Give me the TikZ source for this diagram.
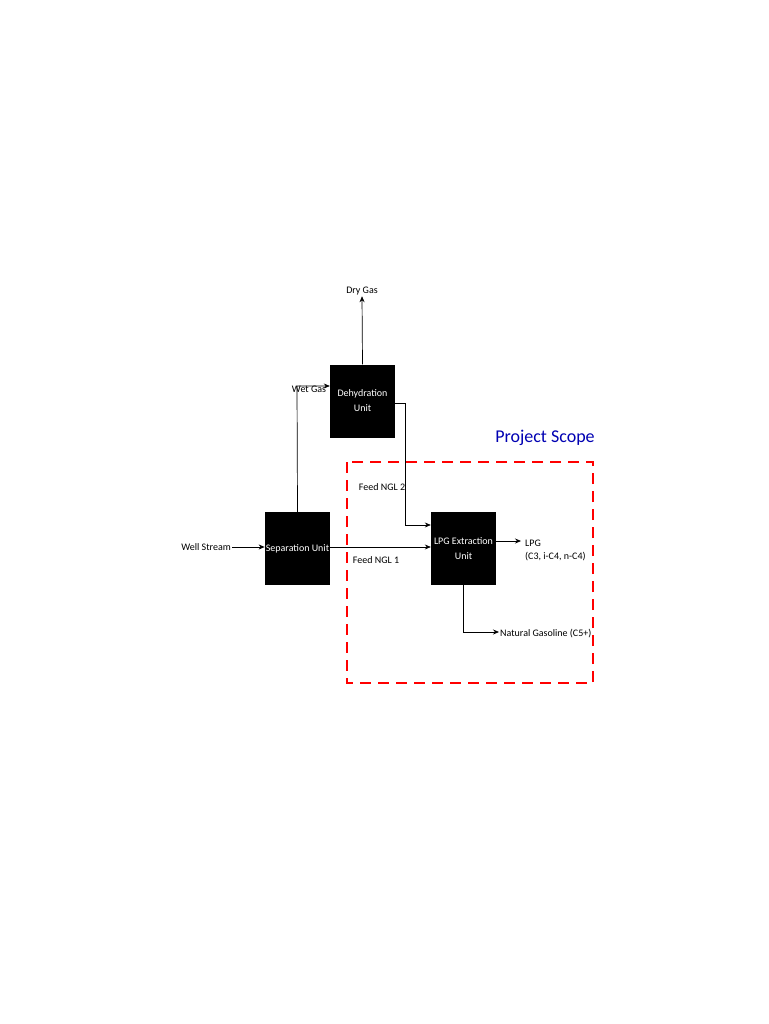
\documentclass[tikz,border=0pt]{standalone}
\usepackage{fontspec}
\setmainfont{Carlito}
\usetikzlibrary{arrows.meta}
\begin{document}
\begin{tikzpicture}[x=1pt,y=-1pt,
  unit/.style={fill=black,text=white,minimum width=65pt,minimum height=73pt,inner sep=1pt,align=center,font=\fontsize{10}{15}\selectfont},
  lbl/.style={font=\fontsize{10}{13}\selectfont,inner sep=1pt},
  flow/.style={-{Stealth[length=6pt,width=5pt]},line width=0.7pt}]
\useasboundingbox (0,0) rectangle (768,1024);
\node[unit] (dh) at (362.5,401) {Dehydration\\Unit};
\node[unit] (sep) at (297.5,548.5) {Separation Unit};
\node[unit] (lpg) at (463.5,548.5) {LPG Extraction\\Unit};
\draw[red,dashed,line width=2pt,dash pattern=on 11pt off 7pt] (347,462) rectangle (593,683);
\node[text=blue!70!black,font=\fontsize{18}{20}\selectfont] (ps) at (545,438) {Project Scope};
\node[lbl] (dry) at (362,291) {Dry Gas};
\draw[flow] (dh.north) -- (dry.south);
\node[lbl,anchor=east] (ws) at (232,547) {Well Stream};
\draw[flow] (ws.east) -- (sep.west |- ws.east);
\coordinate (wg) at (297,386);
\draw[flow] (sep.north) -- (wg) -- (dh.west |- wg);
\node[lbl] at (309,389) {Wet Gas};
\coordinate (f2a) at (405,403);
\coordinate (f2b) at (405,525);
\draw[flow] (dh.east |- f2a) -- (f2a) -- (f2b) -- (lpg.west |- f2b);
\node[lbl] at (382,487) {Feed NGL 2};
\draw[flow] (sep.east |- 0,547) -- (lpg.west |- 0,547);
\node[lbl] at (376,560) {Feed NGL 1};
\node[lbl,anchor=west,align=left] (lp) at (524,550) {LPG\\(C3, i-C4, n-C4)};
\draw[flow] (lpg.east |- 0,541) -- (521,541);
\node[lbl,anchor=west] (ng) at (499,634) {Natural Gasoline (C5+)};
\coordinate (nc) at (463,632);
\draw[flow] (lpg.south -| nc) -- (nc) -- (ng.west |- nc);
\end{tikzpicture}
\end{document}
